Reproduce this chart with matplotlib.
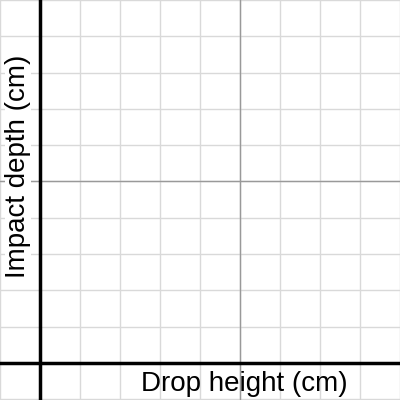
import matplotlib
matplotlib.use("Agg")
import matplotlib.pyplot as plt

x_label = "Drop height (cm)"
y_label = "Impact depth (cm)"
grid_x = list(range(-1, 10))
grid_y = list(range(-1, 11))

fig = plt.figure(figsize=(4, 4), dpi=100)
ax = fig.add_axes([0, 0, 1, 1])
ax.set_xlim(-1, 9)
ax.set_ylim(-1.02, 10)
ax.axis("off")
for gx in grid_x:
    ax.axvline(gx, color="#d9d9d9", lw=1, zorder=1)
for gy in grid_y:
    ax.axhline(gy, color="#d9d9d9", lw=1, zorder=1)
ax.axvline(5, color="#999999", lw=1, zorder=2)
ax.axhline(5, color="#999999", lw=1, zorder=2)
ax.axvline(0, color="black", lw=2.5, zorder=3)
ax.axhline(0, color="black", lw=2.5, zorder=3)
fig.text(0.61, 0.04, x_label, ha="center", va="center", fontsize=20,
         family="Liberation Sans", zorder=4)
fig.text(0.045, 0.585, y_label, ha="center", va="center", rotation=90, fontsize=20,
         family="Liberation Sans",
         bbox=dict(facecolor="white", edgecolor="none", pad=0), zorder=4)
fig.savefig("out.png", dpi=100)
